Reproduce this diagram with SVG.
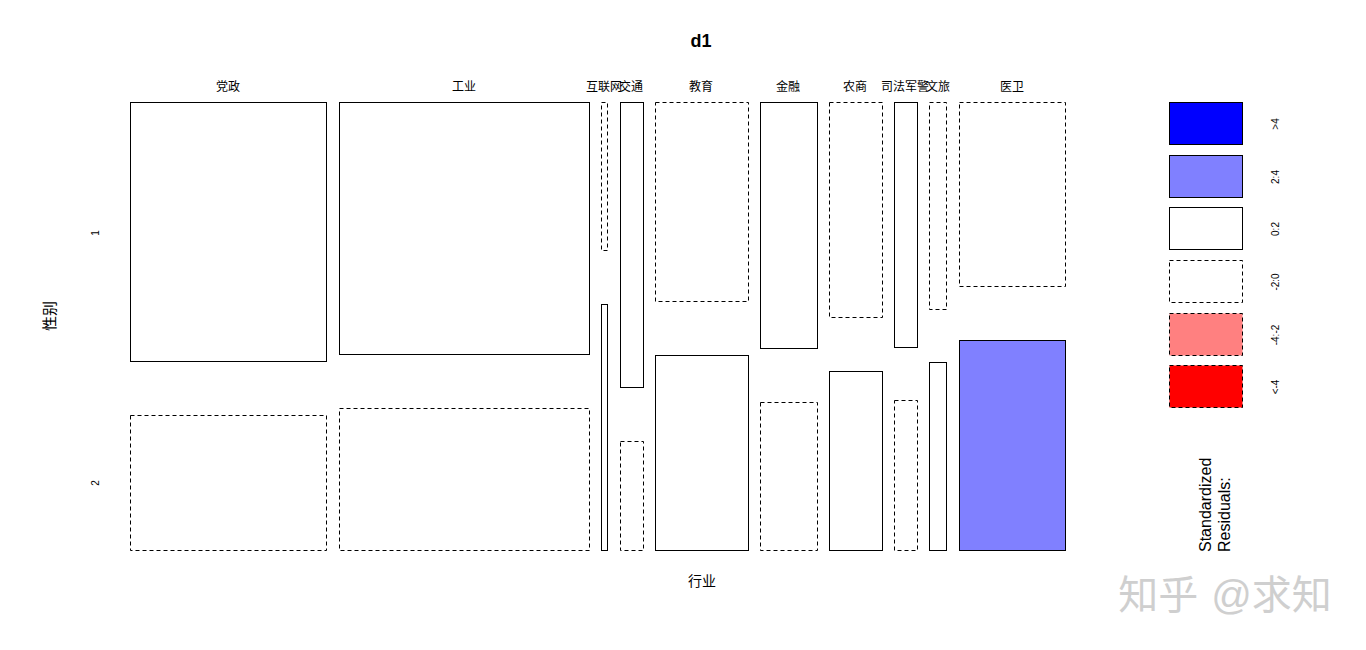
<svg xmlns="http://www.w3.org/2000/svg" width="1366" height="650" viewBox="0 0 1366 650">
<style>
text{font-family:"Liberation Sans","Noto Sans CJK SC",sans-serif;fill:#000;text-anchor:middle}
.cell{fill:#fff;stroke:#000;stroke-width:1}
.dash{stroke-dasharray:4 3}
.lab{font-size:12px}
.axis{font-size:14px}
.leg{font-size:10px}
.mid{fill:#8080ff}
</style>
<rect width="1366" height="650" fill="#fff"/>
<text x="701" y="47" font-size="18" font-weight="bold">d1</text>
<g id="col-labels">
<text class="lab" x="228" y="91">党政</text>
<text class="lab" x="464" y="91">工业</text>
<text class="lab" x="604" y="91">互联网</text>
<text class="lab" x="631" y="91">交通</text>
<text class="lab" x="701" y="91">教育</text>
<text class="lab" x="788" y="91">金融</text>
<text class="lab" x="855" y="91">农商</text>
<text class="lab" x="905" y="91">司法军警</text>
<text class="lab" x="938" y="91">文旅</text>
<text class="lab" x="1012" y="91">医卫</text>
</g>
<g id="row-labels">
<text class="leg" transform="translate(99,233) rotate(-90)">1</text>
<text class="leg" transform="translate(99,483) rotate(-90)">2</text>
<text font-size="15" transform="translate(55,316) rotate(-90)">性别</text>
<text class="axis" x="702" y="586">行业</text>
</g>
<g id="node-dangzheng">
<rect class="cell" x="130.5" y="102.5" width="196" height="259"/>
<rect class="cell dash" x="130.5" y="415.5" width="196" height="135"/>
</g>
<g id="node-gongye">
<rect class="cell" x="339.5" y="102.5" width="250" height="252"/>
<rect class="cell dash" x="339.5" y="408.5" width="250" height="142"/>
</g>
<g id="node-hulianwang">
<rect class="cell dash" x="601.5" y="102.5" width="6" height="148"/>
<rect class="cell" x="601.5" y="304.5" width="6" height="246"/>
</g>
<g id="node-jiaotong">
<rect class="cell" x="620.5" y="102.5" width="23" height="285"/>
<rect class="cell dash" x="620.5" y="441.5" width="23" height="109"/>
</g>
<g id="node-jiaoyu">
<rect class="cell dash" x="655.5" y="102.5" width="93" height="199"/>
<rect class="cell" x="655.5" y="355.5" width="93" height="195"/>
</g>
<g id="node-jinrong">
<rect class="cell" x="760.5" y="102.5" width="57" height="246"/>
<rect class="cell dash" x="760.5" y="402.5" width="57" height="148"/>
</g>
<g id="node-nongshang">
<rect class="cell dash" x="829.5" y="102.5" width="53" height="215"/>
<rect class="cell" x="829.5" y="371.5" width="53" height="179"/>
</g>
<g id="node-sifa">
<rect class="cell" x="894.5" y="102.5" width="23" height="245"/>
<rect class="cell dash" x="894.5" y="400.5" width="23" height="150"/>
</g>
<g id="node-wenlv">
<rect class="cell dash" x="929.5" y="102.5" width="17" height="207"/>
<rect class="cell" x="929.5" y="362.5" width="17" height="188"/>
</g>
<g id="node-yiwei">
<rect class="cell dash" x="959.5" y="102.5" width="106" height="184"/>
<rect class="cell mid" x="959.5" y="340.5" width="106" height="210"/>
</g>
<g id="legend">
<rect class="cell" style="fill:#00f" x="1169.5" y="102.5" width="73" height="42"/>
<rect class="cell mid" x="1169.5" y="155.5" width="73" height="42"/>
<rect class="cell" x="1169.5" y="207.5" width="73" height="42"/>
<rect class="cell dash" x="1169.5" y="260.5" width="73" height="42"/>
<rect class="cell dash" style="fill:#ff8080" x="1169.5" y="313.5" width="73" height="42"/>
<rect class="cell dash" style="fill:#f00" x="1169.5" y="365.5" width="73" height="42"/>
<text class="leg" transform="translate(1279,124) rotate(-90)">&gt;4</text>
<text class="leg" transform="translate(1279,177) rotate(-90)">2:4</text>
<text class="leg" transform="translate(1279,229) rotate(-90)">0:2</text>
<text class="leg" transform="translate(1279,282) rotate(-90)">-2:0</text>
<text class="leg" transform="translate(1279,335) rotate(-90)">-4:-2</text>
<text class="leg" transform="translate(1279,387) rotate(-90)">&lt;-4</text>
<text font-size="16" style="text-anchor:start" transform="translate(1211,552) rotate(-90)">Standardized</text>
<text font-size="16" style="text-anchor:start" transform="translate(1230,552) rotate(-90)">Residuals:</text>
</g>
<text x="1225" y="609" font-size="40" style="fill:#cfcfcf" word-spacing="2">知乎 @求知</text>
</svg>
